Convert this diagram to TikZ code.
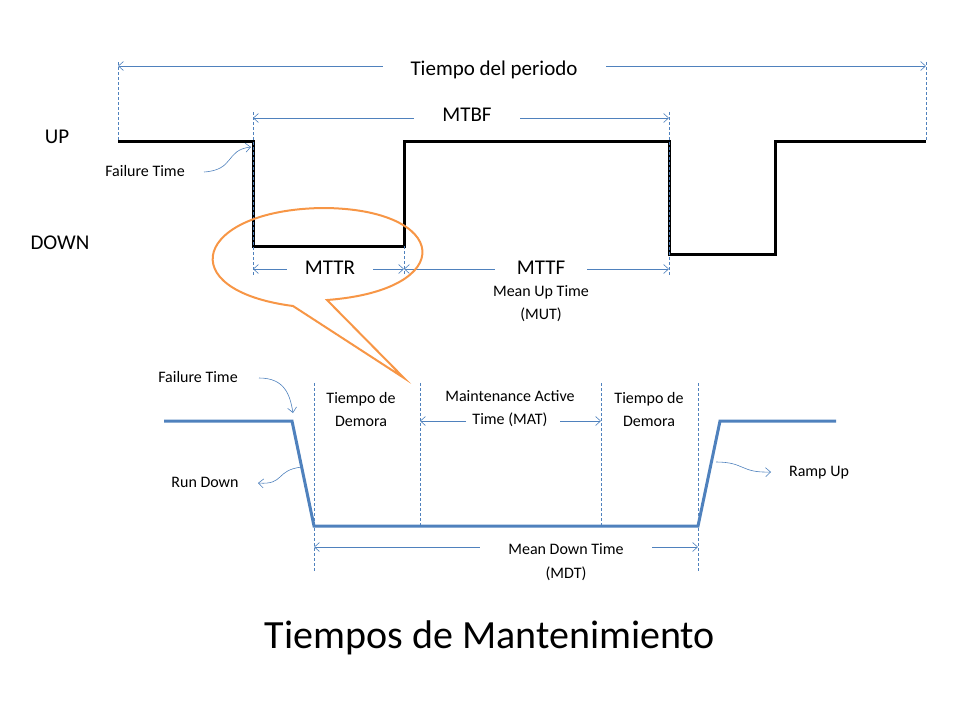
\documentclass[tikz,border=0pt]{standalone}
\usepackage{fontspec}
\setmainfont{Carlito}
\usetikzlibrary{arrows.meta}
\definecolor{lb}{HTML}{4F81BD}
\definecolor{org}{HTML}{F79646}
\begin{document}
\begin{tikzpicture}[x=1pt,y=-1pt,
 dim/.style={draw=lb,{Straight Barb[length=5pt,width=9pt]}-{Straight Barb[length=5pt,width=9pt]},line width=0.6pt},
 ar/.style={draw=lb,-{Straight Barb[length=5pt,width=9pt]},line width=0.6pt},
 vd/.style={draw=lb,dashed,line width=0.5pt,dash pattern=on 3pt off 2pt},
 lbl/.style={fill=white,inner xsep=14pt,inner ysep=3pt,font=\fontsize{21}{23}\selectfont},
 sm/.style={inner sep=1pt,font=\fontsize{16}{23}\selectfont,align=center},
 wave/.style={line width=3pt,line join=miter}]
\useasboundingbox (0,0) rectangle (960,720);
% top waveform
\draw[wave,black] (118,141)--(253,141)--(253,246)--(404,246)--(404,141)--(669,141)--(669,254)--(775,254)--(775,141)--(926,141);
\coordinate (a1) at (118,66); \coordinate (a2) at (926,66);
\coordinate (b1) at (253,118); \coordinate (b2) at (669,118);
\coordinate (c1) at (253,269); \coordinate (c2) at (404,269); \coordinate (c3) at (669,269);
\draw[vd] (118,62)--(118,141); \draw[vd] (926,62)--(926,141);
\draw[vd] (253,112)--(253,275); \draw[vd] (669,112)--(669,275); \draw[vd] (404,246)--(404,275);
\draw[dim] (a1)--(a2); \node[lbl,inner xsep=28pt] at (494,70) {Tiempo del periodo};
\draw[dim] (b1)--(b2); \node[lbl,inner xsep=28pt] at (467,115) {MTBF};
\draw[dim] (c1)--(c2); \node[lbl,inner xsep=18pt] at (330,268) {MTTR};
\draw[dim] (c2)--(c3); \node[lbl,inner xsep=22pt] at (541,268) {MTTF};
\node[sm] (mut) at (541,304) {Mean Up Time\\(MUT)};
\node[font=\fontsize{21}{23}\selectfont] (up) at (57,137) {UP};
\node[font=\fontsize{21}{23}\selectfont] (down) at (60,243) {DOWN};
\node[sm] (ft1) at (145,171) {Failure Time};
\draw[ar] (204,172) .. controls (235,170) and (225,150) .. (251,147);
% callout
\draw[org,line width=2pt,fill=none] (293,306) .. controls (170,290) and (195,210) .. (322,208)
 .. controls (450,208) and (460,290) .. (327,300) -- (404,378) -- cycle;
% bottom waveform
\draw[wave,lb,line width=3pt] (164,421)--(292,421)--(314,526)--(698,526)--(720,421)--(836,421);
\draw[vd] (314,383)--(314,572); \draw[vd] (698,383)--(698,572);
\draw[vd] (420,383)--(420,526); \draw[vd] (601,383)--(601,526);
\node[sm] (td1) at (361,409) {Tiempo de\\Demora};
\node[sm] (td2) at (649,409) {Tiempo de\\Demora};
\node[sm] (mat) at (510,409) {Maintenance Active\\Time (MAT)};
\coordinate (m1) at (420,421); \coordinate (m2) at (601,421);
\draw[ar] (466,421)--(m1); \draw[ar] (560,421)--(m2);
\coordinate (d1) at (314,547); \coordinate (d2) at (698,547);
\draw[dim] (d1)--(d2);
\node[sm,fill=white,inner xsep=28pt,inner ysep=4pt] (mdt) at (566,549) {Mean Down Time};
\node[sm] at (566,574) {(MDT)};
\node[sm] (ft2) at (198,377) {Failure Time};
\draw[ar] (259,378) .. controls (285,378) and (290,395) .. (293,413);
\node[sm] (rd) at (205,482) {Run Down};
\draw[ar] (302,467) .. controls (275,470) and (285,485) .. (258,483);
\node[sm] (ru) at (819,473) {Ramp Up};
\draw[ar] (716,462) .. controls (745,462) and (740,473) .. (771,472);
\node[font=\fontsize{40}{44}\selectfont] (title) at (490,638) {Tiempos de Mantenimiento};
\end{tikzpicture}
\end{document}
